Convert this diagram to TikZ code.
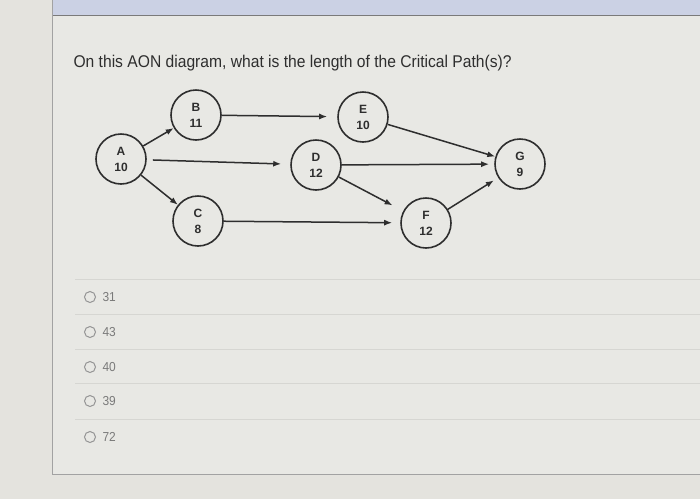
\documentclass[tikz,border=0pt]{standalone}
\usepackage{fontspec}
\setmainfont{Liberation Sans}
\newfontfamily\qfont[FakeStretch=0.92]{Liberation Sans}
\usetikzlibrary{arrows.meta}
\definecolor{aonpage}{HTML}{E8E8E4}
\definecolor{aonmargin}{HTML}{E4E3DE}
\definecolor{aonhead}{HTML}{CBD1E4}
\definecolor{aonrule}{HTML}{D6D6D2}
\definecolor{aonink}{HTML}{2E2E2E}
\definecolor{aongray}{HTML}{7A7A7A}

\begin{document}
\begin{tikzpicture}[x=1pt, y=-1pt,
  act/.style={circle, draw=aonink, line width=1.6pt, minimum size=50pt, inner sep=0pt,
    align=center, text=aonink, font=\fontsize{12}{16}\selectfont\bfseries},
  arr/.style={draw=aonink, line width=1.5pt, -{Latex[length=8pt,width=6pt]}},
  radio/.style={circle, draw=aongray!80, line width=1pt, minimum size=11pt, inner sep=0pt},
  opt/.style={anchor=west, text=aongray, font=\qfont\fontsize{13}{13}\selectfont}]
\useasboundingbox (0,0) rectangle (700,499);
% page
\fill[aonmargin] (0,0) rectangle (700,499);
\fill[aonpage] (52,0) rectangle (700,474);
\fill[aonhead] (52,0) rectangle (700,15);
\draw[aongray, line width=0.8pt] (52,15) -- (700,15);
\draw[aongray!70, line width=0.8pt] (52,0) -- (52,474) -- (700,474);
\node[anchor=base west, text=aonink, font=\qfont\fontsize{17}{17}\selectfont] (title) at (70,67)
  {On this AON diagram, what is the length of the Critical Path(s)?};
% activities
\node[act] (A) at (121,159) {A\\10};
\node[act] (B) at (196,115) {B\\11};
\node[act] (C) at (198,221) {C\\8};
\node[act] (D) at (316,165) {D\\12};
\node[act] (E) at (363,117) {E\\10};
\node[act] (F) at (426,223) {F\\12};
\node[act] (G) at (520,164) {G\\9};
\draw[arr] (A) -- (B);
\draw[arr, shorten <=6pt, shorten >=9pt] (A) -- (D);
\draw[arr] (A) -- (C);
\draw[arr, shorten >=10pt] (B) -- (E);
\draw[arr, shorten >=8pt] (C) -- (F);
\draw[arr, shorten >=5pt] (D) -- (G);
\draw[arr, shorten >=12pt] (D) -- (F);
\draw[arr] (E) -- (G);
\draw[arr, shorten >=5pt] (F) -- (G);
% answers
\foreach \y/\v [count=\i] in {297/31, 332/43, 367/40, 401/39, 437/72} {
  \draw[aonrule, line width=0.8pt] (75,\y-18) -- (700,\y-18);
  \node[radio] (r\i) at (90,\y) {};
  \node[opt] (o\i) at (99,\y) {\v};
}
\end{tikzpicture}
\end{document}
